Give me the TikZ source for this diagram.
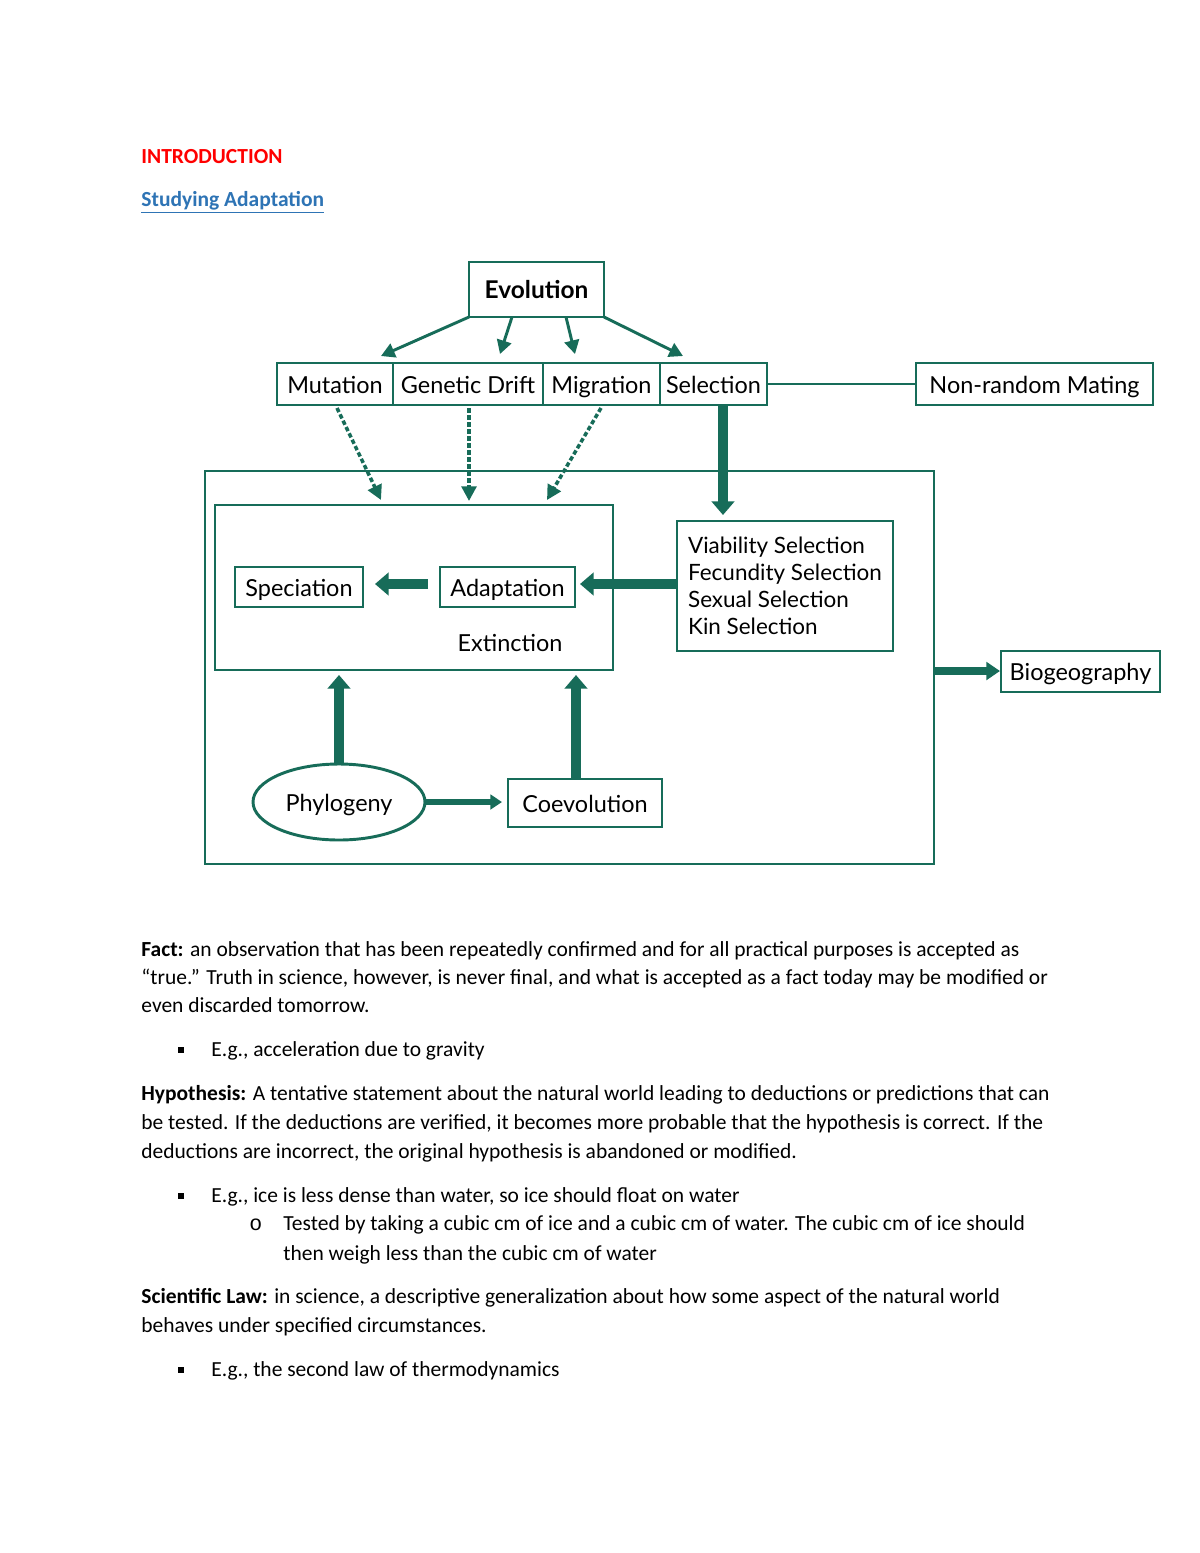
\documentclass[tikz,border=0pt]{standalone}
\usepackage{fontspec}
\setmainfont{Carlito}
\newfontfamily\lato{Lato}
\newfontfamily\cour{Liberation Mono}
\usetikzlibrary{arrows.meta,shapes.geometric,calc}
\definecolor{evgreen}{HTML}{176C59}
\definecolor{introred}{HTML}{FF0000}
\definecolor{linkblue}{HTML}{2E74B5}
\begin{document}
\begin{tikzpicture}[x=0.5118pt,y=-0.5118pt,
  box/.style={draw=evgreen, line width=1.5pt, rectangle, inner sep=0pt,
    font=\lato\fontsize{12}{14}\selectfont, text height=9.5pt, text depth=0pt},
  plain/.style={inner sep=0pt, font=\lato\fontsize{12}{14}\selectfont, text height=9.5pt, text depth=0pt},
  body/.style={inner sep=0pt, anchor=base west, font=\fontsize{11}{13}\selectfont},
  thinarr/.style={draw=evgreen, line width=1.5pt, -{Triangle[length=7pt,width=7.5pt]}, fill=evgreen},
  dotarr/.style={draw=evgreen, line width=1.8pt, dash pattern=on 2.3pt off 1.3pt, -{Triangle[length=7.5pt,width=7.5pt,sep=0pt]}},
  thickarr/.style={draw=evgreen, line width=5pt, -{Triangle[length=7pt,width=11.5pt]}},
  midarr/.style={draw=evgreen, line width=4pt, -{Triangle[length=7pt,width=9pt]}},
  smallarr/.style={draw=evgreen, line width=3pt, -{Triangle[length=6pt,width=7.5pt]}},
]
\useasboundingbox (0,0) rectangle (1200,1553);
\fill[white] (0,0) rectangle (1200,1553);

% headings
\node[body, font=\fontsize{11}{13}\selectfont\bfseries, text=introred] (intro) at (141,163) {INTRODUCTION};
\node[body, font=\fontsize{11}{13}\selectfont\bfseries, text=linkblue] (study) at (141,206) {\underline{Studying Adaptation}};

% outer and inner frames
\node[draw=evgreen, line width=1.5pt, rectangle, inner sep=0pt, minimum width=729*0.5118pt, minimum height=393*0.5118pt] (outer) at (569.5,667.5) {};
\node[draw=evgreen, line width=1.5pt, rectangle, inner sep=0pt, minimum width=398*0.5118pt, minimum height=165*0.5118pt] (inner) at (414,587.5) {};

% top boxes
\node[box, minimum width=135*0.5118pt, minimum height=55*0.5118pt, font=\lato\bfseries\fontsize{12.5}{15}\selectfont] (evo) at (536.5,289.5) {Evolution};
\node[box, minimum width=116*0.5118pt, minimum height=42*0.5118pt] (mut) at (335,384) {Mutation};
\node[box, minimum width=150*0.5118pt, minimum height=42*0.5118pt] (drift) at (468,384) {Genetic Drift};
\node[box, minimum width=117*0.5118pt, minimum height=42*0.5118pt] (mig) at (601.5,384) {Migration};
\node[box, minimum width=107*0.5118pt, minimum height=42*0.5118pt] (sel) at (713.5,384) {Selection};
\node[box, minimum width=237*0.5118pt, minimum height=42*0.5118pt] (nrm) at (1034.5,384) {Non-random Mating};

% inner boxes
\node[box, minimum width=128*0.5118pt, minimum height=40*0.5118pt] (spec) at (299,587) {Speciation};
\node[box, minimum width=135*0.5118pt, minimum height=40*0.5118pt] (adapt) at (507.5,587) {Adaptation};
\node[plain] (ext) at (510,642) {Extinction};
\node[box, minimum width=216*0.5118pt, minimum height=130*0.5118pt, align=left, text height=, text depth=, font=\lato\fontsize{11.5}{13.9}\selectfont] (viab) at (785,586) {Viability Selection\\Fecundity Selection\\Sexual Selection\\Kin Selection};
\node[box, minimum width=159*0.5118pt, minimum height=41*0.5118pt] (bio) at (1080.5,671.5) {Biogeography};
\node[box, ellipse, minimum width=172*0.5118pt, minimum height=76*0.5118pt] (phy) at (339,802) {Phylogeny};
\node[box, minimum width=154*0.5118pt, minimum height=48*0.5118pt] (coev) at (585,803) {Coevolution};

% coordinates for arrow ends
\coordinate (e1) at (469,317);
\coordinate (e2) at (512,317);
\coordinate (e3) at (566,317);
\coordinate (e4) at (604,317);
\coordinate (t1) at (381,356);
\coordinate (t2) at (500,354);
\coordinate (t3) at (575,354);
\coordinate (t4) at (683,356);
\coordinate (d1s) at (337,408);
\coordinate (d1t) at (381,500);
\coordinate (d2s) at (469,408);
\coordinate (d2t) at (469,501);
\coordinate (d3s) at (601,408);
\coordinate (d3t) at (547,500);
\coordinate (selb) at (723,405);
\coordinate (selt) at (723,515);
\coordinate (vat) at (580,584);
\coordinate (vas) at (677,584);
\coordinate (ass) at (428,584);
\coordinate (ast) at (375,584);
\coordinate (phs) at (339,764);
\coordinate (pht) at (339,675);
\coordinate (cos) at (576,779);
\coordinate (cot) at (576,675);
\coordinate (bis) at (934,671);
\coordinate (bit) at (1000,671);
\coordinate (pcs) at (425,802);
\coordinate (pct) at (502,802);

% connectors
\draw[thinarr] (e1) -- (t1);
\draw[thinarr] (e2) -- (t2);
\draw[thinarr] (e3) -- (t3);
\draw[thinarr] (e4) -- (t4);
\draw[draw=evgreen, line width=1.5pt] (sel.east) -- (nrm.west);
\draw[dotarr] (d1s) -- (d1t);
\draw[dotarr] (d2s) -- (d2t);
\draw[dotarr] (d3s) -- (d3t);
\draw[thickarr] (selb) -- (selt);
\draw[thickarr] (vas) -- (vat);
\draw[thickarr] (ass) -- (ast);
\draw[thickarr] (phs) -- (pht);
\draw[thickarr] (cos) -- (cot);
\draw[midarr] (bis) -- (bit);
\draw[smallarr] (pcs) -- (pct);

% body text
\node[body] (f1) at (141,956) {\textbf{Fact:} an observation that has been repeatedly confirmed and for all practical purposes is accepted as};
\node[body] (f2) at (141,984) {“true.” Truth in science, however, is never final, and what is accepted as a fact today may be modified or};
\node[body] (f3) at (141,1012) {even discarded tomorrow.};
\fill (178,1047) rectangle (184,1053);
\node[body] (b1) at (211,1056) {E.g., acceleration due to gravity};
\node[body] (h1) at (141,1100) {\textbf{Hypothesis:} A tentative statement about the natural world leading to deductions or predictions that can};
\node[body] (h2) at (141,1129) {be tested. If the deductions are verified, it becomes more probable that the hypothesis is correct. If the};
\node[body] (h3) at (141,1158) {deductions are incorrect, the original hypothesis is abandoned or modified.};
\fill (178,1193) rectangle (184,1199);
\node[body] (b2) at (211,1202) {E.g., ice is less dense than water, so ice should float on water};
\node[body, font=\cour\fontsize{11}{13}\selectfont] (o1) at (249,1230) {o};
\node[body] (s1) at (283,1230) {Tested by taking a cubic cm of ice and a cubic cm of water. The cubic cm of ice should};
\node[body] (s2) at (283,1260) {then weigh less than the cubic cm of water};
\node[body] (l1) at (141,1303) {\textbf{Scientific Law:} in science, a descriptive generalization about how some aspect of the natural world};
\node[body] (l2) at (141,1332) {behaves under specified circumstances.};
\fill (178,1367) rectangle (184,1373);
\node[body] (b3) at (211,1376) {E.g., the second law of thermodynamics};
\end{tikzpicture}
\end{document}
